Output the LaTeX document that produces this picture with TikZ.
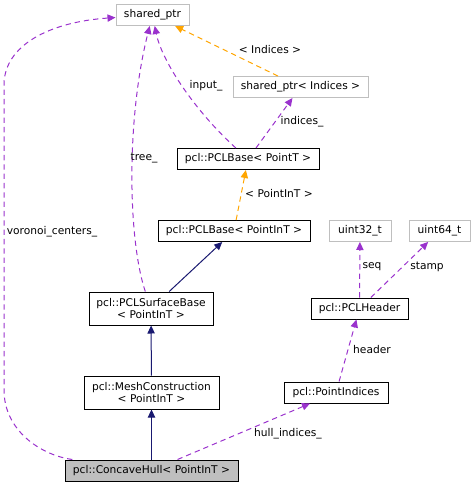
\documentclass[tikz,border=0pt]{standalone}
\usepackage{fontspec}
\setmainfont{DejaVu Sans}
\usetikzlibrary{arrows.meta}

\definecolor{membercol}{RGB}{154,50,205}
\definecolor{tmplcol}{RGB}{255,165,0}
\definecolor{inhcol}{RGB}{25,25,112}
\definecolor{extcol}{RGB}{191,191,191}

\tikzset{every picture/.style={line width=0.75pt}}
\tikzset{
  classbox/.style={draw=black, fill=white, inner sep=0pt, minimum height=15.75pt, align=center, font=\fontsize{8}{9.5}\selectfont},
  extbox/.style={classbox, draw=extcol},
  focusbox/.style={classbox, fill=extcol},
  lbl/.style={inner sep=0pt, font=\fontsize{8}{9.5}\selectfont},
  inh/.style={draw=inhcol, -{Triangle[length=6pt,width=5.5pt]}},
  member/.style={draw=membercol, dash pattern=on 4pt off 3pt, -{Triangle[length=6pt,width=5.5pt,fill=membercol]}},
  tmpl/.style={draw=tmplcol, dash pattern=on 4pt off 3pt, -{Triangle[length=6pt,width=5.5pt,fill=tmplcol]}}
}

\begin{document}
\begin{tikzpicture}[x=0.75pt,y=0.75pt,yscale=-1,xscale=1]
\useasboundingbox (0,0) rectangle (474,486);

%Shape: Rectangle [shared_ptr]
\node (sp) at (152.5,15) [extbox, minimum width=54.75pt] {shared\_ptr};
%Shape: Rectangle [shared_ptr< Indices >]
\node (spi) at (300.5,87) [extbox, minimum width=101.25pt] {shared\_ptr< Indices >};
%Shape: Rectangle [PCLBase< PointT >]
\node (pbt) at (248,159) [classbox, minimum width=106.5pt] {pcl::PCLBase< PointT >};
%Shape: Rectangle [PCLBase< PointInT >]
\node (pbi) at (234,231) [classbox, minimum width=114pt] {pcl::PCLBase< PointInT >};
%Shape: Rectangle [uint32_t]
\node (u32) at (360,231) [extbox, minimum width=46.5pt] {uint32\_t};
%Shape: Rectangle [uint64_t]
\node (u64) at (439.5,231) [extbox, minimum width=45.75pt] {uint64\_t};
%Shape: Rectangle [PCLSurfaceBase]
\node (psb) at (151,308.5) [classbox, minimum width=93pt, minimum height=24.75pt] {pcl::PCLSurfaceBase\\< PointInT >};
%Shape: Rectangle [PCLHeader]
\node (hdr) at (359.5,308.5) [classbox, minimum width=72.75pt] {pcl::PCLHeader};
%Shape: Rectangle [MeshConstruction]
\node (mc) at (151.5,392.5) [classbox, minimum width=101.25pt, minimum height=24.75pt] {pcl::MeshConstruction\\< PointInT >};
%Shape: Rectangle [PointIndices]
\node (pi) at (336,392.5) [classbox, minimum width=78pt] {pcl::PointIndices};
%Shape: Rectangle [ConcaveHull]
\node (ch) at (151.5,470.5) [focusbox, minimum width=129.75pt] {pcl::ConcaveHull< PointInT >};

%Straight Lines [inheritance]
\draw [inh] (ch) -- (mc);
\draw [inh] (mc) -- (psb);
\draw [inh] (psb) -- (pbi);
%Straight Lines [template]
\draw [tmpl] (pbi) -- (pbt);
\draw [tmpl] (spi) -- (sp);
%Straight Lines [members]
\draw [member] (pbt) -- (spi);
\draw [member] (ch) -- (pi);
\draw [member] (pi) -- (hdr);
\draw [member] (hdr) -- (u32);
\draw [member] (hdr) -- (u64);
%Curve Lines [members]
\draw [member] (pbt) .. controls (196,112) and (162,62) .. (sp);
\draw [member] (psb) .. controls (128,240) and (126,120) .. (sp);
\draw [member] (ch) .. controls (40,455) and (4,430) .. (4,390) -- (4,85) .. controls (4,45) and (50,22) .. (sp);

% Text Node
\node (l1) at (270,50) [lbl] {< Indices >};
% Text Node
\node (l2) at (206,86) [lbl] {input\_};
% Text Node
\node (l3) at (302,122) [lbl] {indices\_};
% Text Node
\node (l4) at (144,158) [lbl] {tree\_};
% Text Node
\node (l5) at (279,194) [lbl] {< PointInT >};
% Text Node
\node (l6) at (52,232) [lbl] {voronoi\_centers\_};
% Text Node
\node (l7) at (372,267) [lbl] {seq};
% Text Node
\node (l8) at (427,267) [lbl] {stamp};
% Text Node
\node (l9) at (372,350) [lbl] {header};
% Text Node
\node (l10) at (288,434) [lbl] {hull\_indices\_};

\end{tikzpicture}
\end{document}
